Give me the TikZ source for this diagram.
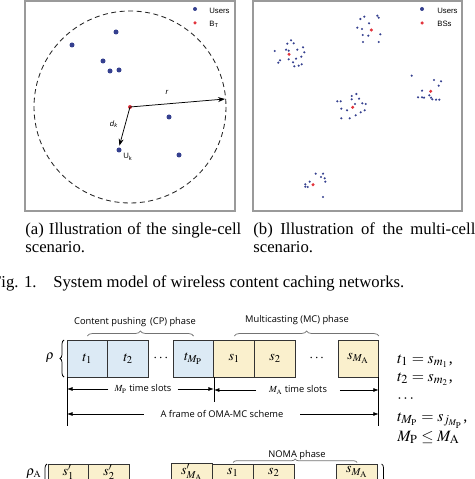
\documentclass[tikz,border=0pt]{standalone}
\usepackage{mathptmx}
\usepackage{fontspec}
\setmainfont{Liberation Serif}
\newfontfamily\arialfont{Liberation Sans}
\newfontfamily\uifont{Open Sans}
\definecolor{userblue}{HTML}{35408F}
\definecolor{bsred}{HTML}{E2353D}
\definecolor{framegray}{HTML}{9A9A9A}
\definecolor{cpblue}{HTML}{DCEAF5}
\definecolor{mcyellow}{HTML}{FAF0CD}
\usetikzlibrary{positioning}
\usetikzlibrary{arrows.meta}
\usetikzlibrary{decorations.pathreplacing}
\tikzstyle{panel} = [draw=framegray, line width=0.3mm]
\tikzstyle{slot} = [draw=black!80, line width=0.2mm, inner sep=0pt, outer sep=0pt,
  minimum width=8.16mm, minimum height=7.4mm, font=\fontsize{8}{8}\selectfont]
\tikzstyle{lowslot} = [slot, minimum height=3.2mm]
\tikzstyle{brc} = [decorate, decoration={brace, amplitude=1mm}, line width=0.15mm]

\begin{document}
\begin{tikzpicture}[
  x=0.2mm, y=-0.2mm,
  user/.style={circle, fill=userblue, inner sep=0pt, minimum size=1mm},
  bs/.style={circle, fill=bsred, inner sep=0pt, minimum size=0.8mm},
  legtext/.style={anchor=west, inner sep=0pt, font=\arialfont\fontsize{4.4}{5}\selectfont},
  capt/.style={inner sep=0pt, font=\fontsize{9.5}{11}\selectfont},
  phase/.style={inner ysep=0.5pt, inner xsep=1.5mm, font=\uifont\fontsize{5.3}{6}\selectfont},
  eq/.style={anchor=base west, inner sep=0pt, font=\fontsize{9}{10}\selectfont},
  dim/.style={-{Latex[length=1.1mm, width=0.8mm]}, line width=0.15mm},
]
\useasboundingbox (0,0) rectangle (474,479);
\clip (0,0) rectangle (474,479);

% (a) single cell
\draw[panel] (25,1) rectangle (235,211);
\node[bs] (bt) at (130,107) {};
\draw[black!85, line width=0.17mm, dash pattern=on 1mm off 0.7mm] (bt.center) circle[radius=96];
\foreach \x/\y [count=\i] in {72/45,116/32,103/61,110/71,119/70,169/117,179/155}
  \node[user] (ua\i) at (\x,\y) {};
\node[user] (uk) at (119,150) {};
\coordinate (redge) at (225,99);
\draw[-{Stealth[length=1.4mm, width=1mm]}, line width=0.15mm] (bt.center) -- (redge);
\draw[-{Stealth[length=1.4mm, width=1mm]}, line width=0.15mm, shorten >=0.3mm] (bt.center) -- (uk.north);
\node[legtext, anchor=center, font=\arialfont\itshape\fontsize{4.4}{5}\selectfont] (rlbl) at (167,92) {r};
\node[legtext, anchor=center, font=\arialfont\itshape\fontsize{4.4}{5}\selectfont] (dlbl) at (114,124) {d\textsubscript{k}};
\node[legtext] (uklbl) at (123,157) {U\textsubscript{k}};
\node[user, minimum size=0.8mm] (lga1) at (195,9) {};
\node[bs, minimum size=0.7mm] (lga2) at (195,23) {};
\node[legtext] (lgat1) at (209,11) {Users};
\node[legtext] (lgat2) at (209,24) {B\textsubscript{T}};

% (b) multi cell
\draw[panel] (253,1) rectangle (462,211);
\foreach \p in {(274.7,51.0),(287.3,43.7),(291.0,40.3),(293.7,43.3),(286.0,49.7),(288.7,50.7),
  (297.3,49.7),(303.0,47.3),(304.3,52.3),(301.3,56.7),(296.0,58.7),(293.0,62.3),(294.3,66.3),
  (298.7,65.7),(301.7,64.3),(280.0,60.3),(278.3,62.7),(288.7,59.3),
  (360.3,19.0),(364.3,16.7),(377.3,15.7),(378.7,17.7),(369.0,23.3),(357.3,27.7),(362.0,29.0),
  (362.7,35.0),(368.3,35.7),(380.3,34.3),(363.0,42.0),(378.7,42.0),
  (337.3,101.3),(340.7,101.3),(351.7,96.0),(356.3,94.0),(351.7,99.3),(359.0,98.7),(355.0,104.0),
  (362.3,103.3),(365.7,104.0),(341.3,108.7),(347.0,110.3),(364.7,110.3),(360.7,112.3),
  (355.7,115.3),(341.3,118.3),(349.7,118.3),
  (411.7,75.7),(434.0,80.0),(441.0,81.3),(438.7,85.7),(422.0,90.7),(429.3,95.3),(418.0,97.3),
  (422.0,97.3),(424.0,97.7),(431.0,97.7),(432.3,99.3),(436.0,99.7),(439.3,99.7),
  (315.7,173.7),(323.0,173.7),(321.0,177.0),(324.7,178.3),(325.3,181.7),(309.7,181.7),
  (305.3,184.3),(305.3,186.7),(307.7,187.0),(323.0,197.0)}
  \fill[userblue] \p circle[radius=1.2];
\foreach \p in {(289.0,54.3),(371.3,30.0),(352.7,107.3),(430.7,91.3),(313.0,184.7)}
  \fill[bsred] \p circle[radius=1.7];
\node[user, minimum size=0.8mm] (lgb1) at (422,9) {};
\node[bs, minimum size=0.7mm] (lgb2) at (422,23) {};
\node[legtext] (lgbt1) at (437,11) {Users};
\node[legtext] (lgbt2) at (437,24) {BSs};

% captions
\node[capt, anchor=base west] (capa) at (25,235) {\makebox[43.2mm][s]{(a) Illustration of the single-cell}};
\node[capt, anchor=base west] (capa2) at (25,253) {scenario.};
\node[capt, anchor=base west] (capb) at (253,235) {\makebox[44.4mm][s]{(b) Illustration of the multi-cell}};
\node[capt, anchor=base west] (capb2) at (253,253) {scenario.};
\node[capt, anchor=base east] (fignum) at (37,288) {Fig. 1.};
\node[capt, anchor=base west] (figcap) at (53,288) {System model of wireless content caching networks.};

% OMA-MC frame
\node[slot, fill=cpblue] (t1) at (87.4,358.5) {$t_1$};
\node[slot, fill=cpblue, right=0pt of t1] (t2) {$t_2$};
\node[slot, fill=cpblue, right=4.9mm of t2] (tmp) {$t_{M_\mathrm{P}}$};
\node[slot, fill=mcyellow, right=0pt of tmp] (s1) {$s_1$};
\node[slot, fill=mcyellow, right=0pt of s1] (s2) {$s_2$};
\node[slot, fill=mcyellow, right=8.5mm of s2] (sma) {$s_{M_\mathrm{A}}$};
\path (t2) -- node[phase, font=\fontsize{8}{8}\selectfont] (gap1) {$\cdots$} (tmp);
\path (s2) -- node[phase, font=\fontsize{8}{8}\selectfont] (gap2) {$\cdots$} (sma);
\draw[brc, draw=black!55] ([yshift=0.8mm]t1.north) -- ([yshift=0.8mm]tmp.north);
\draw[brc, draw=black!55] ([yshift=0.8mm]s1.north) -- ([yshift=0.8mm]sma.north east);
\node[phase] (cplbl) at (135,322) {Content pushing\, (CP) phase};
\node[phase] (mclbl) at (297,320) {Multicasting (MC) phase};
\draw[brc, decoration={amplitude=0.8mm}] ([xshift=-0.6mm]t1.south west) -- ([xshift=-0.6mm]t1.north west);
\node[capt, font=\fontsize{7.5}{8}\selectfont] (rho) at (50,358) {$\rho$};

\draw[line width=0.15mm] (t1.south west) -- ++(0,49);
\draw[line width=0.15mm] (s1.south west) -- ++(0,25);
\draw[line width=0.15mm] (sma.south east) -- ++(0,49);
\node[phase, inner xsep=1.2mm] (mplbl) at (143,389) {$M_\mathrm{P}$ time slots};
\draw[dim] (mplbl.west) -- (mplbl.west -| t1.west);
\draw[dim] (mplbl.east) -- (mplbl.east -| s1.west);
\node[phase, inner xsep=2.5mm] (malbl) at (298,390) {$M_\mathrm{A}$ time slots};
\draw[dim] (malbl.west) -- (malbl.west -| s1.west);
\draw[dim] (malbl.east) -- (malbl.east -| sma.east);
\node[phase, inner xsep=3.3mm] (frlbl) at (222,414) {A frame of OMA-MC scheme};
\draw[dim] (frlbl.west) -- (frlbl.west -| t1.west);
\draw[dim] (frlbl.east) -- (frlbl.east -| sma.east);

\node[eq] (eq1) at (397,363) {$t_1 = s_{m_1}$,};
\node[eq] (eq2) at (397,381) {$t_2 = s_{m_2}$,};
\node[eq] (eq3) at (397,402) {$\cdots$};
\node[eq] (eq4) at (397,421) {$t_{M_\mathrm{P}} = s_{j_{M_\mathrm{P}}}$,};
\node[eq] (eq5) at (397,441) {$M_\mathrm{P} \leq M_\mathrm{A}$};

% NOMA frame
\node[lowslot, fill=mcyellow] (np1) at (68.4,472) {$s'_1$};
\node[lowslot, fill=mcyellow, right=0pt of np1] (np2) {$s'_2$};
\node[lowslot, fill=mcyellow, right=8.45mm of np2] (npma) {$s'_{M_\mathrm{A}}$};
\node[lowslot, fill=mcyellow, right=0pt of npma] (n1) {$s_1$};
\node[lowslot, fill=mcyellow, right=0pt of n1] (n2) {$s_2$};
\node[lowslot, fill=mcyellow, right=8.5mm of n2] (nma) {$s_{M_\mathrm{A}}$};
\draw[brc, draw=black!55, decoration={amplitude=0.7mm}] ([yshift=0.3mm]n1.north) -- ([yshift=0.3mm]nma.north);
\node[phase] (nomalbl) at (297,455) {NOMA phase};
\draw[brc, decoration={amplitude=0.8mm}] ([xshift=0.8mm]nma.north east) -- ++(0,37);
\draw[brc, decoration={amplitude=0.8mm}] ([xshift=-0.2mm]np1.north west) ++(0,37) -- ([xshift=-0.2mm]np1.north west);
\node[capt, font=\fontsize{7.5}{8}\selectfont] (rhoa) at (34,474) {$\rho_\mathrm{A}$};
\end{tikzpicture}
\end{document}
